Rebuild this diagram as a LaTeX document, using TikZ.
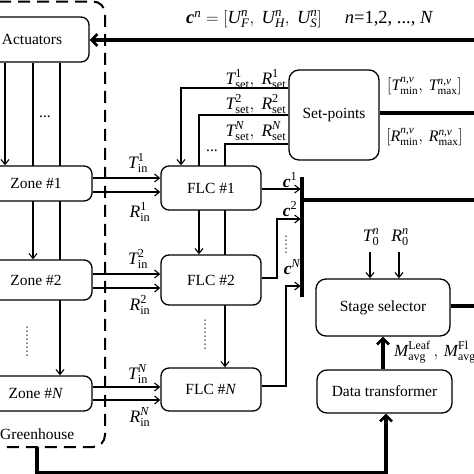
\documentclass[tikz,border=0pt]{standalone}
\usepackage{amsmath}
\usepackage{fontspec}
\setmainfont{Liberation Serif}
\usetikzlibrary{arrows.meta}
\pgfdeclarelayer{bg}
\pgfsetlayers{bg,main}
\newcommand\mvi[1]{\textit{#1}}
\newcommand\mvr[1]{\textrm{#1}}
\newcommand\cbold{\textbf{\textit{c}}}
\begin{document}
\begin{tikzpicture}[x=1pt,y=-1pt,
  font=\fontsize{15.5}{18}\selectfont,
  box/.style={draw, line width=1.3pt, rounded corners=8pt, fill=white, inner sep=0pt},
  lbl/.style={inner sep=1pt, font=\fontsize{17.5}{20}\selectfont},
  arr/.style={line width=1.1pt, -{Straight Barb[length=5pt,width=8pt,line width=1.1pt]}},
  thk/.style={line width=3.2pt},
  thkarr/.style={line width=3.2pt, -{Straight Barb[length=6pt,width=12pt,line width=2.6pt]}},
  vdots/.style={line width=1.5pt, line cap=round, dash pattern=on 0pt off 4pt}
]
\useasboundingbox (0,0) rectangle (474,474);
\clip (0,0) rectangle (474,474);

% boxes
\node[box, minimum width=114pt, minimum height=45pt] (act) at (32,39.5) {Actuators};
\node[box, minimum width=112pt, minimum height=35pt] (zone1) at (36,183.5) {Zone \#1};
\node[box, minimum width=112pt, minimum height=40pt] (zone2) at (36,280) {Zone \#2};
\node[box, minimum width=112pt, minimum height=35pt] (zoneN) at (36,393.5) {Zone \#\mvi{N}};
\node[box, minimum width=100pt, minimum height=44pt] (flc1) at (211,188) {FLC \#1};
\node[box, minimum width=100pt, minimum height=50pt] (flc2) at (211,280) {FLC \#2};
\node[box, minimum width=100pt, minimum height=43pt] (flcN) at (211,389.5) {FLC \#\mvi{N}};
\node[box, rounded corners=10pt, minimum width=90pt, minimum height=90pt] (sp) at (334,115) {Set-points};
\node[box, rounded corners=10pt, minimum width=134pt, minimum height=57pt] (ss) at (383,307.5) {Stage selector};
\node[box, rounded corners=10pt, minimum width=135pt, minimum height=43pt] (dt) at (384.5,391.5) {Data transformer};

% greenhouse boundary
\draw[line width=2pt, dash pattern=on 12pt off 7pt, rounded corners=12pt]
  (-20,1.5) -- (105,1.5) -- (105,447) -- (-20,447);
\node[anchor=base west, inner sep=0pt] (gh) at (0,439.5) {Greenhouse};

\begin{pgfonlayer}{bg}
% actuator lines
\draw[arr] (act.south -| 5,0) -- (zone1.north -| 5,0);
\draw[arr] (act.south -| 33,0) -- (zone2.north -| 33,0);
\draw[arr] (act.south -| 60,0) -- (zoneN.north -| 60,0);
% set-point lines
\draw[arr] (sp.west |- 0,88) -- (181,88) -- (flc1.north -| 181,0);
\draw[arr] (sp.west |- 0,115) -- (199,115) -- (flc2.north -| 199,0);
\draw[arr] (sp.west |- 0,144) -- (225,144) -- (flcN.north -| 225,0);
\end{pgfonlayer}

% zone -> FLC
\draw[arr] (zone1.east |- 0,178) -- (flc1.west |- 0,178);
\draw[arr] (zone1.east |- 0,192) -- (flc1.west |- 0,192);
\draw[arr] (zone2.east |- 0,274) -- (flc2.west |- 0,274);
\draw[arr] (zone2.east |- 0,288) -- (flc2.west |- 0,288);
\draw[arr] (zoneN.east |- 0,387) -- (flcN.west |- 0,387);
\draw[arr] (zoneN.east |- 0,400) -- (flcN.west |- 0,400);

\node[lbl] (tin1) at (138,163) {$\mvi{T}^{\mvr{1}}_{\mvr{in}}$};
\node[lbl] (rin1) at (140,212) {$\mvi{R}^{\mvr{1}}_{\mvr{in}}$};
\node[lbl] (tin2) at (138,259) {$\mvi{T}^{\mvr{2}}_{\mvr{in}}$};
\node[lbl] (rin2) at (140,305) {$\mvi{R}^{\mvr{2}}_{\mvr{in}}$};
\node[lbl] (tinN) at (138,374) {$\mvi{T}^{\mvi{N}}_{\mvr{in}}$};
\node[lbl] (rinN) at (140,417) {$\mvi{R}^{\mvi{N}}_{\mvr{in}}$};

% set labels
\node[lbl, anchor=east] (ts1) at (287.5,79) {$\mvi{T}^{\mvr{1}}_{\mvr{set}},\ \mvi{R}^{\mvr{1}}_{\mvr{set}}$};
\node[lbl, anchor=east] (ts2) at (287.5,104) {$\mvi{T}^{\mvr{2}}_{\mvr{set}},\ \mvi{R}^{\mvr{2}}_{\mvr{set}}$};
\node[lbl, anchor=east] (tsN) at (287.5,131) {$\mvi{T}^{\mvi{N}}_{\mvr{set}},\ \mvi{R}^{\mvi{N}}_{\mvr{set}}$};
\node[inner sep=1pt] (dots1) at (212,151) {...};
\node[inner sep=1pt] (dots2) at (45,117) {...};

% vertical dots
\draw[vdots] (27,327) -- (27,356);
\draw[vdots] (205,320) -- (205,349);
\draw[vdots] (286,236) -- (286,252);

% set-point ranges
\node[lbl, font=\fontsize{16}{19}\selectfont] (trange) at (424.5,86) {$\left[\mvi{T}^{\mvi{n,v}}_{\mvr{min}},\,\mvi{T}^{\mvi{n,v}}_{\mvr{max}}\right]$};
\node[lbl, font=\fontsize{16}{19}\selectfont] (rrange) at (424.5,137) {$\left[\mvi{R}^{\mvi{n,v}}_{\mvr{min}},\,\mvi{R}^{\mvi{n,v}}_{\mvr{max}}\right]$};
\draw[thk] (sp.east |- 0,113) -- (480,113);

% top equation and feedback
\node[lbl, anchor=west, font=\fontsize{18.5}{21}\selectfont] (eq) at (185,19) {$\cbold^{\mvi{n}} = \left[\mvi{U}^{\mvi{n}}_{\mvi{F}},\ \mvi{U}^{\mvi{n}}_{\mvi{H}},\ \mvi{U}^{\mvi{n}}_{\mvi{S}}\right]$\quad\ \mvi{n}=1,2, ..., \mvi{N}};
\draw[thkarr] (480,40) -- (act.east |- 0,40);

% bar and control outputs
\draw[line width=3.5pt] (302,177) coordinate (bt) -- (302,297) coordinate (bb);
\draw[arr] (flc1.east |- 0,189) -- (300.5,189);
\draw[arr] (flc2.east |- 0,278) -- (277,278) -- (277,219) -- (300.5,219);
\draw[arr] (flcN.east |- 0,386) -- (286,386) -- (286,286) -- (300.5,286);
\node[lbl] (c1) at (290,180) {$\cbold^{\mvr{1}}$};
\node[lbl] (c2) at (290,209) {$\cbold^{\mvr{2}}$};
\node[lbl] (cN) at (292,267) {$\cbold^{\mvi{N}}$};
\draw[thk] (302,200) -- (480,200);

% stage selector
\draw[arr] (370,252) -- (ss.north -| 370,0);
\draw[arr] (399,252) -- (ss.north -| 399,0);
\node[lbl] (t0) at (371,237) {$\mvi{T}^{\mvi{n}}_{\mvr{0}}$};
\node[lbl] (r0) at (400,237) {$\mvi{R}^{\mvi{n}}_{\mvr{0}}$};
\draw[thk] (ss.east |- 0,306) -- (480,306);

% data transformer
\draw[thkarr] (dt.north -| 383,0) -- (ss.south -| 383,0);
\node[lbl, anchor=west, font=\fontsize{17}{20}\selectfont] (mlab) at (393,352) {$\mvi{M}^{\mvr{Leaf}}_{\mvr{avg}}\,,\,\mvi{M}^{\mvr{Fl}}_{\mvr{avg}}$};
\draw[thkarr, line join=miter] (37,447) -- (37,472.5) -- (386,472.5) -- (dt.south -| 386,0);
\end{tikzpicture}
\end{document}
